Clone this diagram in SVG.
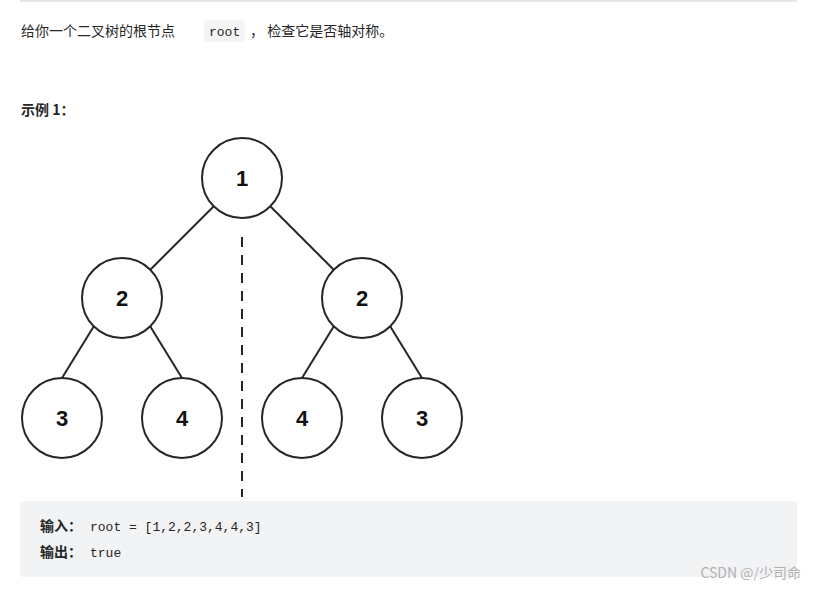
<svg xmlns="http://www.w3.org/2000/svg" width="817" height="590" viewBox="0 0 817 590">
<style>
.t{font-family:"Noto Sans CJK SC","Liberation Sans",sans-serif;font-size:14px;fill:#262626}
.m{font-family:"Liberation Mono","DejaVu Sans Mono",monospace;font-size:13px;fill:#262626}
.n circle{fill:#fff;stroke:#262626;stroke-width:2}
.n text{font-family:"Liberation Sans",Arial,sans-serif;font-weight:bold;font-size:22px;fill:#111;text-anchor:middle}
.e line{stroke:#262626;stroke-width:2}
</style>
<rect width="817" height="590" fill="#fff"/>
<line x1="20" y1="1" x2="797" y2="1" stroke="#e6e6e6" stroke-width="2"/>
<text class="t" x="21" y="36">给你一个二叉树的根节点</text>
<rect x="204" y="20" width="41" height="22" rx="4" fill="#f3f4f5"/>
<text class="m" x="209" y="36" font-size="12">root</text>
<text class="t" x="250" y="36">，  检查它是否轴对称。</text>
<text class="t" x="21" y="115" font-weight="bold">示例 1：</text>
<g class="e" id="edges">
<line x1="214" y1="206" x2="150" y2="270"/>
<line x1="270" y1="206" x2="334" y2="270"/>
<line x1="94" y1="326" x2="62" y2="378"/>
<line x1="150" y1="326" x2="182" y2="378"/>
<line x1="334" y1="326" x2="302" y2="378"/>
<line x1="390" y1="326" x2="422" y2="378"/>
<line x1="242" y1="237" x2="242" y2="497" stroke-dasharray="10,8" stroke-width="3"/>
</g>
<g class="n" id="n1"><circle cx="242" cy="178" r="40"/><text x="242" y="186">1</text></g>
<g class="n" id="n2a"><circle cx="122" cy="298" r="40"/><text x="122" y="306">2</text></g>
<g class="n" id="n2b"><circle cx="362" cy="298" r="40"/><text x="362" y="306">2</text></g>
<g class="n" id="n3a"><circle cx="62" cy="418" r="40"/><text x="62" y="426">3</text></g>
<g class="n" id="n4a"><circle cx="182" cy="418" r="40"/><text x="182" y="426">4</text></g>
<g class="n" id="n4b"><circle cx="302" cy="418" r="40"/><text x="302" y="426">4</text></g>
<g class="n" id="n3b"><circle cx="422" cy="418" r="40"/><text x="422" y="426">3</text></g>
<rect x="20" y="501" width="777" height="76" rx="3" fill="#f2f3f5"/>
<text class="t" x="40" y="531" font-weight="bold">输入：</text>
<text class="m" x="90" y="531">root = [1,2,2,3,4,4,3]</text>
<text class="t" x="40" y="557" font-weight="bold">输出：</text>
<text class="m" x="90" y="557">true</text>
<text x="801" y="578" text-anchor="end" font-family="Noto Sans CJK SC,Liberation Sans,sans-serif" font-size="14" fill="#b0b0b0">CSDN @/少司命</text>
</svg>
